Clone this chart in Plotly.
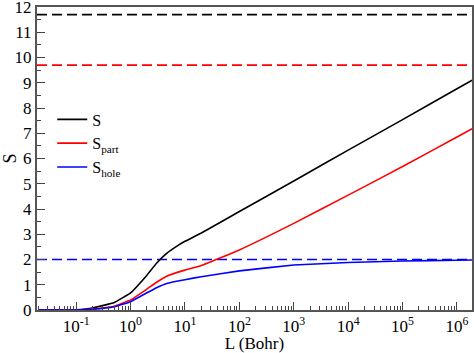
import numpy as np
import plotly.graph_objects as go

# Data
L = [0.02, 0.05, 0.1, 0.2, 0.5, 1, 2, 3, 4.6, 7, 10, 20, 100, 1e3, 1e4, 1e5, 1e6, 1.9e6]
S_total = [0, 0, 0.01, 0.08, 0.30, 0.68, 1.38, 1.85, 2.24, 2.52, 2.72, 3.05, 3.90, 5.11, 6.33, 7.54, 8.76, 9.10]
S_part = [0, 0, 0.005, 0.04, 0.15, 0.40, 0.83, 1.10, 1.34, 1.48, 1.58, 1.76, 2.38, 3.43, 4.55, 5.68, 6.85, 7.18]
S_hole = [0, 0, 0.005, 0.03, 0.13, 0.33, 0.68, 0.88, 1.05, 1.14, 1.20, 1.32, 1.55, 1.78, 1.88, 1.94, 1.97, 1.98]

# Saturation (dashed) levels
S_total_sat = 11.7
S_part_sat = 9.7
S_hole_sat = 2.0

x_range_log = [-1.72, 6.276]
x_span = [10 ** x_range_log[0], 10 ** x_range_log[1]]

tick_vals = [0.1, 1, 10, 100, 1e3, 1e4, 1e5, 1e6]
tick_text = ["10<sup>-1</sup>", "10<sup>0</sup>", "10<sup>1</sup>", "10<sup>2</sup>",
             "10<sup>3</sup>", "10<sup>4</sup>", "10<sup>5</sup>", "10<sup>6</sup>"]
minor_vals = [m * 10.0 ** k for k in range(-2, 7) for m in range(2, 10)]

font = "Liberation Serif"

fig = go.Figure()

for level, col in [(S_total_sat, "black"), (S_part_sat, "#ff0000"), (S_hole_sat, "#0000ff")]:
    fig.add_trace(go.Scatter(x=x_span, y=[level, level], mode="lines",
                             line=dict(color=col, width=1.6, dash="10px,5px"),
                             showlegend=False, hoverinfo="skip"))

fig.add_trace(go.Scatter(x=L, y=S_total, mode="lines", name="S",
                         line=dict(color="black", width=1.6, shape="spline", smoothing=0.3)))
fig.add_trace(go.Scatter(x=L, y=S_part, mode="lines", name="S<sub>part</sub>",
                         line=dict(color="#ff0000", width=1.6, shape="spline", smoothing=0.3)))
fig.add_trace(go.Scatter(x=L, y=S_hole, mode="lines", name="S<sub>hole</sub>",
                         line=dict(color="#0000ff", width=1.6, shape="spline", smoothing=0.3)))

fig.update_layout(
    width=474, height=353,
    margin=dict(l=37, r=2, t=7, b=43),
    paper_bgcolor="white", plot_bgcolor="white",
    font=dict(family=font, size=18, color="black"),
    showlegend=True,
    legend=dict(x=0.035, y=0.685, xanchor="left", yanchor="top",
                bgcolor="rgba(0,0,0,0)", font=dict(size=16, family=font, color="black"),
                tracegroupgap=0, itemwidth=30),
    xaxis=dict(type="log", range=x_range_log, tickvals=tick_vals, ticktext=tick_text,
               ticks="inside", ticklen=8, tickwidth=1, tickcolor="#444",
               showline=True, linecolor="#555", linewidth=2, mirror=True,
               showgrid=False, zeroline=False, ticklabeloverflow="allow", automargin=False,
               minor=dict(tickvals=minor_vals, ticks="inside", ticklen=4,
                          tickwidth=1, tickcolor="#444", showgrid=False),
               title=dict(text="L (Bohr)", font=dict(size=17, family=font, color="black"), standoff=6),
               tickfont=dict(size=17, family=font, color="black")),
    yaxis=dict(range=[0, 12.0], dtick=1, tick0=0,
               ticks="inside", ticklen=8, tickwidth=1, tickcolor="#444",
               showline=True, linecolor="#555", linewidth=2, mirror=True,
               showgrid=False, zeroline=False, ticklabeloverflow="allow", automargin=False,
               minor=dict(dtick=0.5, ticks="inside", ticklen=4, tickwidth=1,
                          tickcolor="#444", showgrid=False),
               title=dict(text="S", font=dict(size=18, family=font, color="black"), standoff=6),
               tickfont=dict(size=17, family=font, color="black")),
)

fig.write_html("out.html")
